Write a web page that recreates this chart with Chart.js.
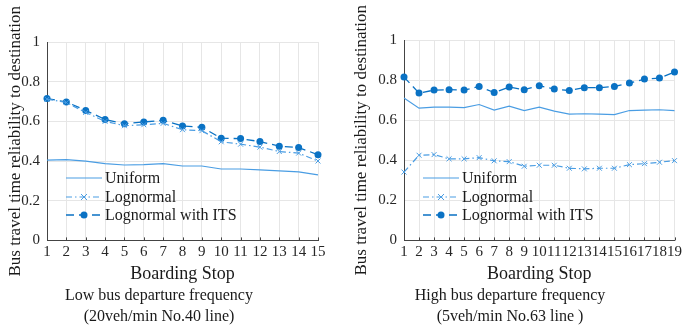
<!DOCTYPE html>
<html>
<head>
  <title>Bus travel time reliability</title>
  <script src="https://cdn.jsdelivr.net/npm/chart.js"></script>
  <style>
    body { margin: 0; background: #fff; }
    .wrap { display: flex; width: 685px; height: 327px; }
    #left { width: 342px; height: 327px; }
    #right { width: 343px; height: 327px; }
  </style>
</head>
<body>
  <div class="wrap">
    <div id="left"><canvas id="lowChart"></canvas></div>
    <div id="right"><canvas id="highChart"></canvas></div>
  </div>
  <script>
    // left panel: No.40 line, 15 stops
    const stopsLow = [1, 2, 3, 4, 5, 6, 7, 8, 9, 10, 11, 12, 13, 14, 15];
    const uniformLow = [0.405, 0.407, 0.40, 0.387, 0.38, 0.382, 0.387, 0.375, 0.375, 0.36, 0.36, 0.355, 0.35, 0.345, 0.33];
    const lognormalLow = [0.712, 0.695, 0.645, 0.60, 0.578, 0.583, 0.59, 0.558, 0.553, 0.497, 0.485, 0.47, 0.448, 0.44, 0.40];
    const itsLow = [0.715, 0.698, 0.655, 0.61, 0.588, 0.597, 0.605, 0.577, 0.57, 0.515, 0.513, 0.498, 0.475, 0.468, 0.432];

    // right panel: No.63 line, 19 stops
    const stopsHigh = [1, 2, 3, 4, 5, 6, 7, 8, 9, 10, 11, 12, 13, 14, 15, 16, 17, 18, 19];
    const uniformHigh = [0.71, 0.66, 0.665, 0.665, 0.663, 0.678, 0.65, 0.67, 0.648, 0.665, 0.645, 0.63, 0.632, 0.63, 0.628, 0.648, 0.65, 0.652, 0.648];
    const lognormalHigh = [0.341, 0.425, 0.428, 0.407, 0.407, 0.413, 0.397, 0.393, 0.37, 0.375, 0.375, 0.36, 0.357, 0.36, 0.36, 0.378, 0.383, 0.39, 0.398];
    const itsHigh = [0.815, 0.735, 0.75, 0.752, 0.75, 0.768, 0.738, 0.765, 0.752, 0.772, 0.755, 0.748, 0.762, 0.762, 0.768, 0.785, 0.805, 0.81, 0.84];

    const yTicks = [0, 0.2, 0.4, 0.6, 0.8, 1];
    const seriesNames = ["Uniform", "Lognormal", "Lognormal with ITS"];

    const serif = "'Liberation Serif', 'DejaVu Serif', serif";
    const lineBlue = '#4a9de3';
    const darkBlue = '#0a72c4';

    // legend drawn inside the plot, like the original figure
    const innerLegend = {
      id: 'innerLegend',
      afterDraw(chart) {
        const ctx = chart.ctx;
        const x0 = chart.chartArea.left + 19;
        const rows = [178, 197, 215];
        ctx.save();
        chart.data.datasets.forEach((ds, i) => {
          const y = rows[i];
          ctx.strokeStyle = ds.borderColor;
          ctx.lineWidth = ds.borderWidth;
          ctx.setLineDash(ds.borderDash || []);
          ctx.beginPath();
          ctx.moveTo(x0, y);
          ctx.lineTo(x0 + 36, y);
          ctx.stroke();
          ctx.setLineDash([]);
          if (ds.pointStyle === 'circle') {
            ctx.fillStyle = ds.pointBackgroundColor;
            ctx.beginPath();
            ctx.arc(x0 + 18, y, 3.5, 0, Math.PI * 2);
            ctx.fill();
          } else if (ds.pointStyle === 'crossRot') {
            ctx.strokeStyle = ds.pointBorderColor;
            ctx.lineWidth = 1;
            ctx.beginPath();
            ctx.moveTo(x0 + 15, y - 3); ctx.lineTo(x0 + 21, y + 3);
            ctx.moveTo(x0 + 21, y - 3); ctx.lineTo(x0 + 15, y + 3);
            ctx.stroke();
          }
          ctx.fillStyle = '#1a1a1a';
          ctx.font = "16px " + serif;
          ctx.textBaseline = 'middle';
          ctx.fillText(ds.label, x0 + 39, y + 1);
        });
        ctx.restore();
      }
    };

    // small inward tick marks on the bottom axis
    const innerTicks = {
      id: 'innerTicks',
      afterDatasetsDraw(chart) {
        const ctx = chart.ctx;
        const xs = chart.scales.x;
        const bottom = chart.chartArea.bottom;
        ctx.save();
        ctx.strokeStyle = '#444';
        ctx.lineWidth = 1;
        ctx.beginPath();
        xs.ticks.forEach((t, i) => {
          const px = Math.round(xs.getPixelForTick(i)) + 0.5;
          ctx.moveTo(px, bottom);
          ctx.lineTo(px, bottom - 3);
        });
        ctx.stroke();
        ctx.restore();
      }
    };

    function makeDatasets(uni, logn, its) {
      return [
        {
          label: seriesNames[0], data: uni,
          borderColor: lineBlue, borderWidth: 1.2, pointRadius: 0
        },
        {
          label: seriesNames[1], data: logn,
          borderColor: lineBlue, borderWidth: 1.2, borderDash: [6, 3, 1.5, 3],
          pointStyle: 'crossRot', pointRadius: 3.5, pointBorderColor: lineBlue,
          pointBorderWidth: 1, pointBackgroundColor: lineBlue
        },
        {
          label: seriesNames[2], data: its,
          borderColor: darkBlue, borderWidth: 1.3, borderDash: [8, 5],
          pointStyle: 'circle', pointRadius: 3.5, pointBorderWidth: 0,
          pointBackgroundColor: darkBlue, pointBorderColor: darkBlue
        }
      ];
    }

    function makeConfig(stops, uni, logn, its, top, right, yWidth, yTitlePad, caption) {
      return {
        type: 'line',
        data: { labels: stops, datasets: makeDatasets(uni, logn, its) },
        plugins: [innerLegend, innerTicks],
        options: {
          responsive: true,
          maintainAspectRatio: false,
          animation: false,
          layout: { padding: { top: top, right: right, left: 0, bottom: 0 } },
          plugins: {
            legend: { display: false },
            tooltip: { enabled: false },
            title: {
              display: true, position: 'bottom', text: caption,
              color: '#1a1a1a', font: { family: serif, size: 16, weight: 'normal', lineHeight: 1.3 },
              padding: { top: 0, bottom: 0 }
            }
          },
          scales: {
            x: {
              type: 'category',
              offset: false,
              grid: { color: '#e6e6e6', drawTicks: false },
              border: { color: '#444', width: 1 },
              ticks: {
                autoSkip: false, maxRotation: 0, padding: 3,
                color: '#262626', font: { family: serif, size: 15 }
              },
              title: {
                display: true, text: 'Boarding Stop', color: '#1a1a1a',
                font: { family: serif, size: 18 }, padding: { top: 2, bottom: 0 }
              },
              afterFit(scale) { scale.height = 45; }
            },
            y: {
              min: 0, max: 1,
              afterBuildTicks(scale) { scale.ticks = yTicks.map(v => ({ value: v })); },
              grid: { color: '#e6e6e6', drawTicks: false },
              border: { color: '#444', width: 1 },
              ticks: {
                padding: 7, color: '#262626', font: { family: serif, size: 15 },
                callback: v => String(v)
              },
              title: {
                display: true, text: 'Bus travel time reliability to destination',
                color: '#1a1a1a', font: { family: serif, size: 17 }, padding: { top: yTitlePad, bottom: 2 }
              },
              afterFit(scale) { scale.width = yWidth; }
            }
          }
        }
      };
    }

    new Chart('lowChart', makeConfig(stopsLow, uniformLow, lognormalLow, itsLow, 42, 24, 47, 5,
      ['Low bus departure frequency', '(20veh/min No.40 line)']));
    new Chart('highChart', makeConfig(stopsHigh, uniformHigh, lognormalHigh, itsHigh, 40, 7, 62, 9,
      ['High bus departure frequency', '(5veh/min No.63 line )']));
  </script>
</body>
</html>
